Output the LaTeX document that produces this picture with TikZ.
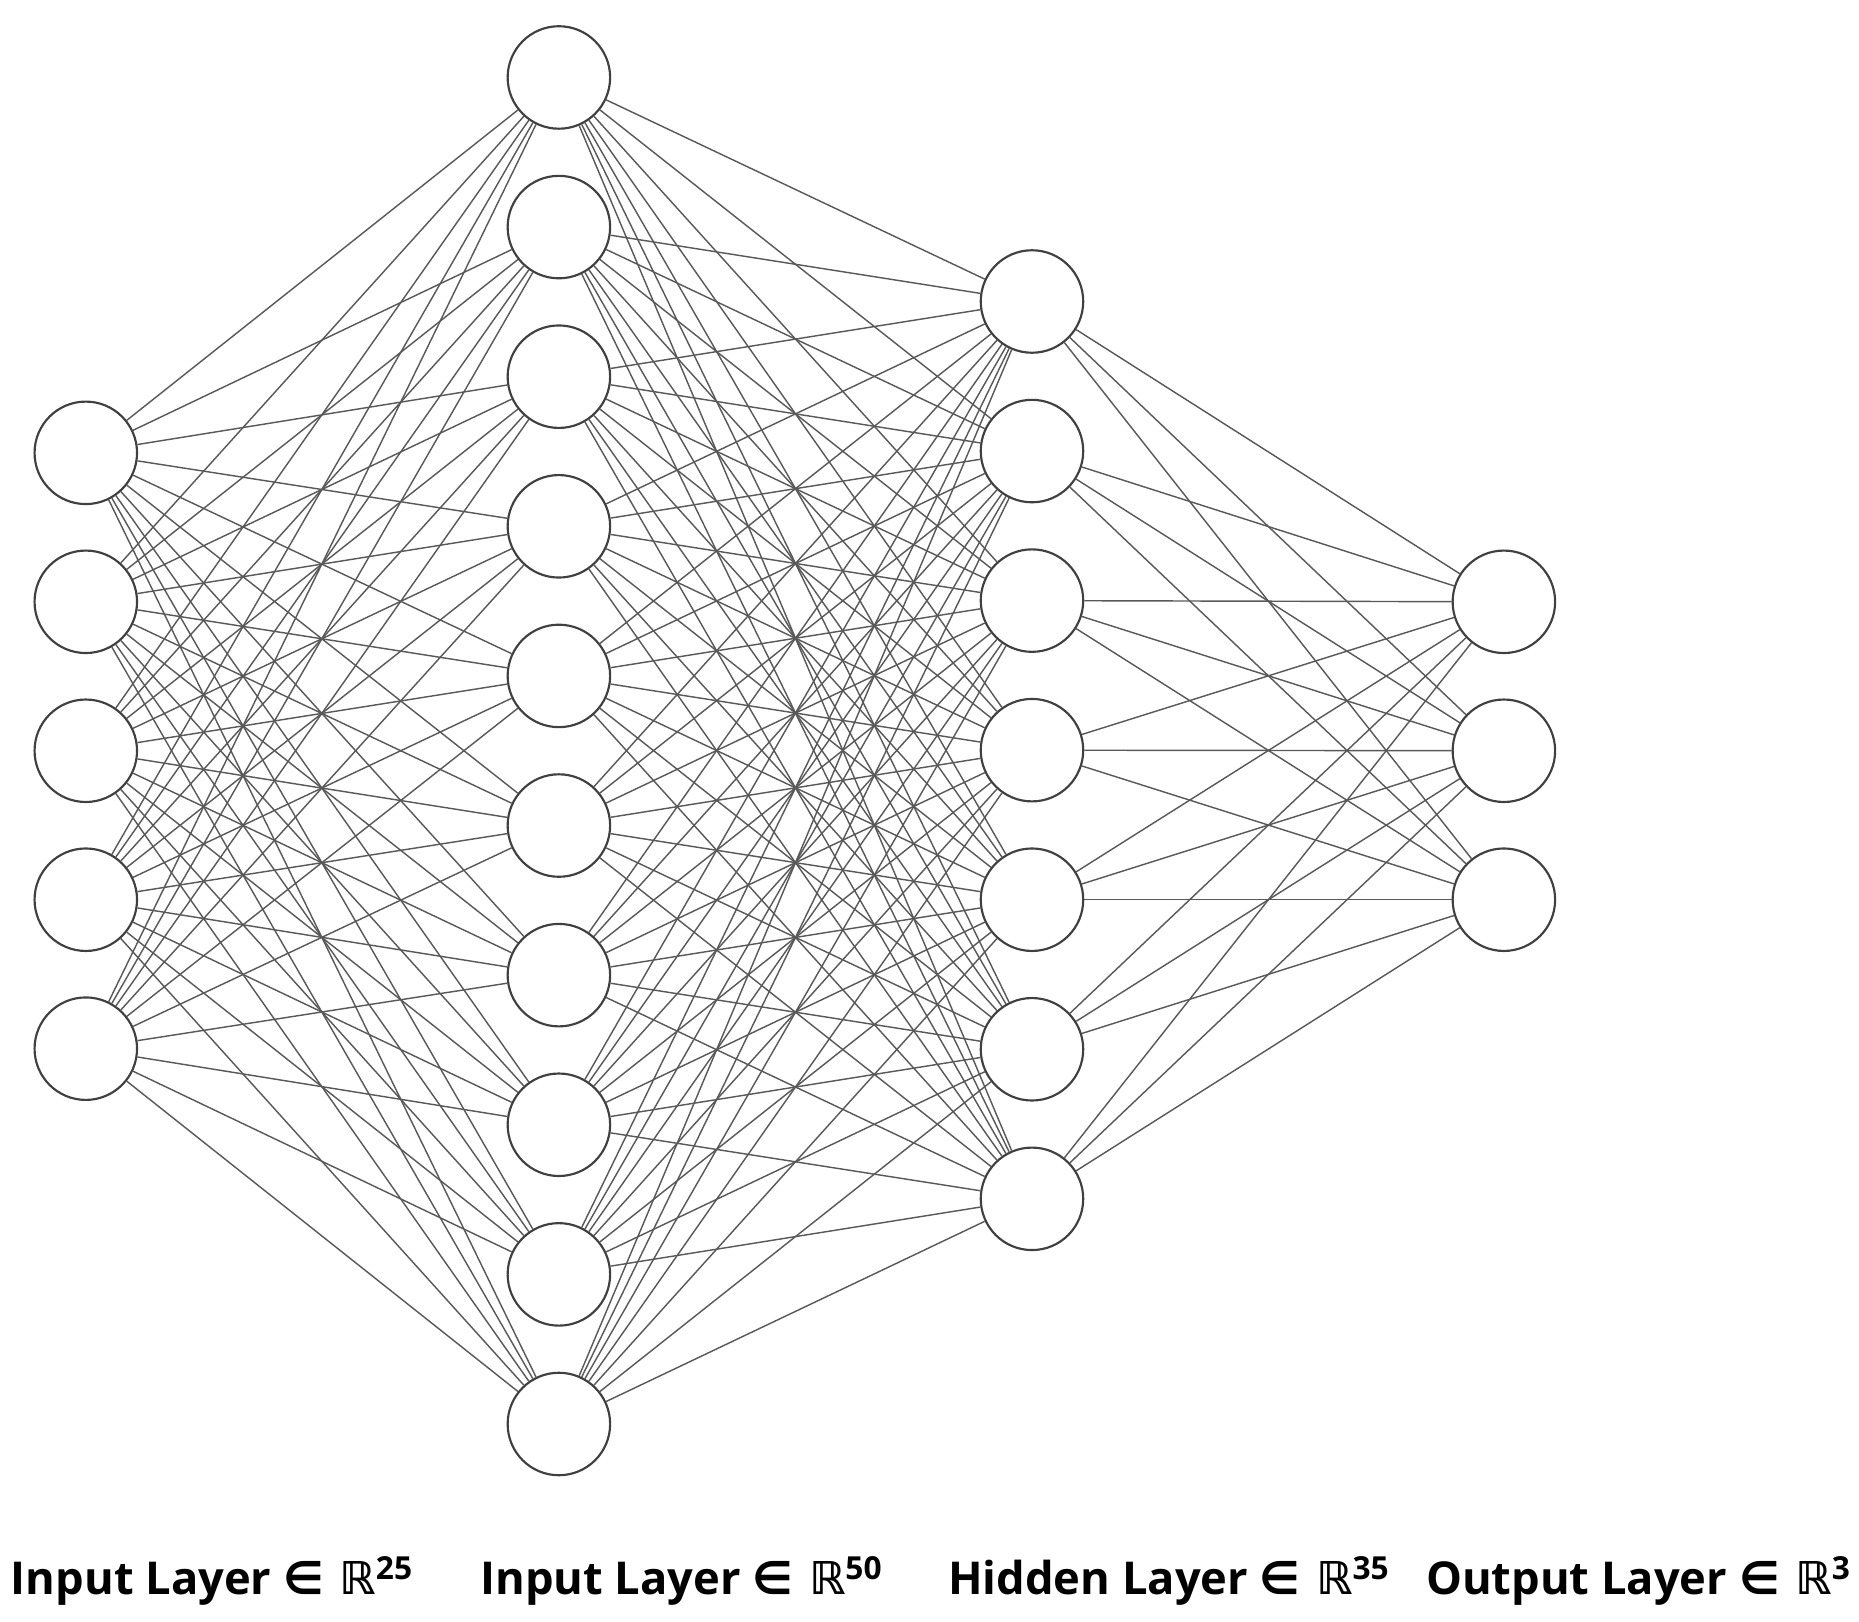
\documentclass[tikz,border=0pt]{standalone}
\usepackage{fontspec}
\setmainfont{Open Sans}
\newfontfamily\symf{DejaVu Sans}
\newcommand{\inR}[1]{{\symf\bfseries ∈ ℝ}\textsuperscript{#1}}
\begin{document}
\begin{tikzpicture}[x=0.5pt,y=-0.5pt,
  neuron/.style={circle,draw=black!75,line width=0.9pt,fill=white,minimum size=43pt,inner sep=0pt},
  edge/.style={draw=black!65,line width=0.6pt},
  lbl/.style={font=\fontsize{19}{22}\selectfont\bfseries,anchor=base}]
\useasboundingbox (0,0) rectangle (1560,1361);
\foreach \i/\y in {1/380,2/505,3/630,4/755,5/880} \node[neuron] (a\i) at (72,\y) {};
\foreach \i in {1,...,10} \node[neuron] (b\i) at (469,{65+125.55*(\i-1)}) {};
\foreach \i in {1,...,7} \node[neuron] (c\i) at (866,{253+125.5*(\i-1)}) {};
\foreach \i/\y in {1/505,2/630,3/755} \node[neuron] (d\i) at (1262,\y) {};
\foreach \i in {1,...,5} \foreach \j in {1,...,10} \draw[edge] (a\i) -- (b\j);
\foreach \i in {1,...,10} \foreach \j in {1,...,7} \draw[edge] (b\i) -- (c\j);
\foreach \i in {1,...,7} \foreach \j in {1,...,3} \draw[edge] (c\i) -- (d\j);
\node[lbl] (l1) at (178,1338) {Input Layer \inR{25}};
\node[lbl] (l2) at (572,1338) {Input Layer \inR{50}};
\node[lbl] (l3) at (981,1338) {Hidden Layer \inR{35}};
\node[lbl] (l4) at (1375,1338) {Output Layer \inR{3}};
\end{tikzpicture}
\end{document}
